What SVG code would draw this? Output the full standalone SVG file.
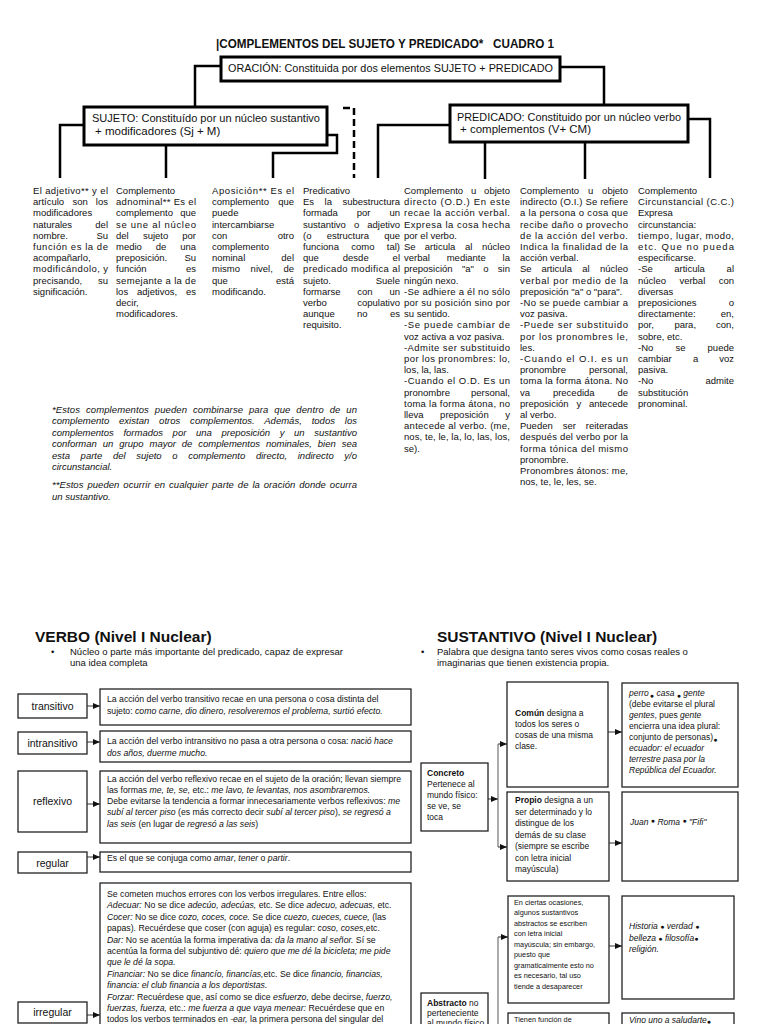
<svg xmlns="http://www.w3.org/2000/svg" width="768" height="1024" viewBox="0 0 768 1024">
<defs>
<marker id="ah" markerUnits="userSpaceOnUse" markerWidth="7" markerHeight="6" refX="7" refY="3" orient="auto"><path d="M0,0 L7,3 L0,6 z" fill="#111"/></marker>
</defs>
<style>
text{font-family:"Liberation Sans",Arial,Helvetica,sans-serif;fill:#111}
.col{font-size:9.5px}
.e{text-anchor:end}
.fn{font-size:9.5px;font-style:italic}
.ttl{font-size:12.5px;font-weight:bold}
.bt{font-size:11.5px}
.box{fill:#fff;stroke:#000;stroke-width:3}
.ln{fill:none;stroke:#000;stroke-width:2.5}
.dash{fill:none;stroke:#000;stroke-width:2.5;stroke-dasharray:7 4}
.vb{fill:#fff;stroke:#222;stroke-width:1.3}
.lbl{font-size:10.5px;text-anchor:middle}
.d{font-size:8.7px}
.i{font-style:italic}
.b{font-weight:bold}
.h{font-size:15.5px;font-weight:bold}
.bl{font-size:9.5px}
.s{font-size:8.5px}
.xs{font-size:7.3px}
.ar{fill:none;stroke:#555;stroke-width:1.2;marker-end:url(#ah)}
.gr{fill:none;stroke:#888;stroke-width:1.4}
.dot{font-style:normal;font-size:7px}
</style>
<rect width="768" height="1024" fill="#fff"/>

<text id="title" class="ttl" x="216" y="48" textLength="338" lengthAdjust="spacingAndGlyphs" xml:space="preserve">|COMPLEMENTOS DEL SUJETO Y PREDICADO*   CUADRO 1</text>

<g id="connectors-top">
<polyline class="ln" points="221,66 195,66 195,107"/>
<polyline class="ln" points="560,67 604,67 604,105"/>
<polyline class="ln" points="84,125 60,125 60,178"/>
<line class="ln" x1="166" y1="145" x2="166" y2="178"/>
<polyline class="ln" points="327,135 337,135 337,153 273,153 273,178"/>
<polyline class="dash" points="343,108 354,108 354,178"/>
<polyline class="ln" points="450,125 378,125 378,178"/>
<line class="ln" x1="485" y1="142" x2="485" y2="179"/>
<line class="ln" x1="585" y1="142" x2="585" y2="179"/>
<polyline class="ln" points="688,119 710,119 710,178"/>
</g>

<g id="n-oracion">
<rect class="box" x="221" y="57" width="339" height="24"/>
<text class="bt" x="228" y="71.5" textLength="325" lengthAdjust="spacingAndGlyphs">ORACIÓN: Constituida por dos elementos SUJETO + PREDICADO</text>
</g>
<g id="n-sujeto">
<rect class="box" x="84" y="107" width="243" height="38"/>
<text class="bt" x="92" y="122" textLength="228" lengthAdjust="spacingAndGlyphs">SUJETO: Constituído por un núcleo sustantivo</text>
<text class="bt" x="95" y="134.5">+ modificadores (Sj + M)</text>
</g>
<g id="n-predicado">
<rect class="box" x="450" y="105" width="238" height="37"/>
<text class="bt" x="457" y="120.5" textLength="224" lengthAdjust="spacingAndGlyphs">PREDICADO: Constituido por un núcleo verbo</text>
<text class="bt" x="460" y="133">+ complementos (V+ CM)</text>
</g>

<g id="col-adjetivo" class="col">
<text x="33" y="194" textLength="75" lengthAdjust="spacing">El adjetivo** y el</text>
<text x="33" y="205.2">artículo</text><text x="72.4" y="205.2">son</text><text class="e" x="108" y="205.2">los</text>
<text x="33" y="216.4">modificadores</text>
<text x="33" y="227.6">naturales</text><text class="e" x="108" y="227.6">del</text>
<text x="33" y="238.8">nombre.</text><text class="e" x="108" y="238.8">Su</text>
<text x="33" y="250" textLength="75" lengthAdjust="spacing">función es la de</text>
<text x="33" y="261.2">acompañarlo,</text>
<text x="33" y="272.4" textLength="75" lengthAdjust="spacing">modificándolo, y</text>
<text x="33" y="283.6">precisando,</text><text class="e" x="108" y="283.6">su</text>
<text x="33" y="294.8">significación.</text>
</g>

<g id="col-adnominal" class="col">
<text x="116" y="194">Complemento</text>
<text x="116" y="205.2" textLength="80" lengthAdjust="spacing">adnominal** Es el</text>
<text x="116" y="216.4">complemento</text><text class="e" x="196" y="216.4">que</text>
<text x="116" y="227.6" textLength="80" lengthAdjust="spacing">se une al núcleo</text>
<text x="116" y="238.8">del</text><text x="142.9" y="238.8">sujeto</text><text class="e" x="196" y="238.8">por</text>
<text x="116" y="250">medio</text><text x="155.8" y="250">de</text><text class="e" x="196" y="250">una</text>
<text x="116" y="261.2">preposición.</text><text class="e" x="196" y="261.2">Su</text>
<text x="116" y="272.4">función</text><text class="e" x="196" y="272.4">es</text>
<text x="116" y="283.6" textLength="80" lengthAdjust="spacing">semejante a la de</text>
<text x="116" y="294.8">los</text><text x="137" y="294.8">adjetivos,</text><text class="e" x="196" y="294.8">es</text>
<text x="116" y="306">decir,</text>
<text x="116" y="317.2">modificadores.</text>
</g>

<g id="col-aposicion" class="col">
<text x="212" y="194" textLength="82" lengthAdjust="spacing">Aposición** Es el</text>
<text x="212" y="205.2">complemento</text><text class="e" x="294" y="205.2">que</text>
<text x="212" y="216.4">puede</text>
<text x="212" y="227.6">intercambiarse</text>
<text x="212" y="238.8">con</text><text class="e" x="294" y="238.8">otro</text>
<text x="212" y="250">complemento</text>
<text x="212" y="261.2">nominal</text><text class="e" x="294" y="261.2">del</text>
<text x="212" y="272.4">mismo</text><text x="250.6" y="272.4">nivel,</text><text class="e" x="294" y="272.4">de</text>
<text x="212" y="283.6">que</text><text class="e" x="294" y="283.6">está</text>
<text x="212" y="294.8">modificando.</text>
</g>

<g id="col-predicativo" class="col">
<text x="303" y="194">Predicativo</text>
<text x="303" y="205.2">Es</text><text x="324.6" y="205.2">la</text><text class="e" x="400" y="205.2">subestructura</text>
<text x="303" y="216.4">formada</text><text x="356.8" y="216.4">por</text><text class="e" x="400" y="216.4">un</text>
<text x="303" y="227.6">sustantivo</text><text x="353.9" y="227.6">o</text><text class="e" x="400" y="227.6">adjetivo</text>
<text x="303" y="238.8">(o</text><text x="326.7" y="238.8">estructura</text><text class="e" x="400" y="238.8">que</text>
<text x="303" y="250">funciona</text><text x="351.3" y="250">como</text><text class="e" x="400" y="250">tal)</text>
<text x="303" y="261.2">que</text><text x="342.8" y="261.2">desde</text><text class="e" x="400" y="261.2">el</text>
<text x="303" y="272.4" textLength="97" lengthAdjust="spacing">predicado modifica al</text>
<text x="303" y="283.6">sujeto.</text><text class="e" x="400" y="283.6">Suele</text>
<text x="303" y="294.8">formarse</text><text x="357.3" y="294.8">con</text><text class="e" x="400" y="294.8">un</text>
<text x="303" y="306">verbo</text><text class="e" x="400" y="306">copulativo</text>
<text x="303" y="317.2">aunque</text><text x="357" y="317.2">no</text><text class="e" x="400" y="317.2">es</text>
<text x="303" y="328.4">requisito.</text>
</g>

<g id="col-od" class="col">
<text x="404" y="194">Complemento</text><text x="471" y="194">u</text><text class="e" x="510" y="194">objeto</text>
<text x="404" y="205.2" textLength="106" lengthAdjust="spacing">directo (O.D.) En este</text>
<text x="404" y="216.4" textLength="106" lengthAdjust="spacing">recae la acción verbal.</text>
<text x="404" y="227.6" textLength="106" lengthAdjust="spacing">Expresa la cosa hecha</text>
<text x="404" y="238.8">por el verbo.</text>
<text x="404" y="250">Se</text><text x="424.7" y="250">articula</text><text x="465" y="250">al</text><text class="e" x="510" y="250">núcleo</text>
<text x="404" y="261.2">verbal</text><text x="446.7" y="261.2">mediante</text><text class="e" x="510" y="261.2">la</text>
<text x="404" y="272.4">preposición</text><text x="461.9" y="272.4">"a"</text><text x="483.3" y="272.4">o</text><text class="e" x="510" y="272.4">sin</text>
<text x="404" y="283.6">ningún nexo.</text>
<text x="404" y="294.8" textLength="106" lengthAdjust="spacing">-Se adhiere a él no sólo</text>
<text x="404" y="306" textLength="106" lengthAdjust="spacing">por su posición sino por</text>
<text x="404" y="317.2">su sentido.</text>
<text x="404" y="328.4" textLength="106" lengthAdjust="spacing">-Se puede cambiar de</text>
<text x="404" y="339.6">voz activa a voz pasiva.</text>
<text x="404" y="350.8" textLength="106" lengthAdjust="spacing">-Admite ser substituido</text>
<text x="404" y="362" textLength="106" lengthAdjust="spacing">por los pronombres: lo,</text>
<text x="404" y="373.2">los, la, las.</text>
<text x="404" y="384.4" textLength="106" lengthAdjust="spacing">-Cuando el O.D. Es un</text>
<text x="404" y="395.6">pronombre</text><text class="e" x="510" y="395.6">personal,</text>
<text x="404" y="406.8" textLength="106" lengthAdjust="spacing">toma la forma átona, no</text>
<text x="404" y="418">lleva</text><text x="440.1" y="418">preposición</text><text class="e" x="510" y="418">y</text>
<text x="404" y="429.2" textLength="106" lengthAdjust="spacing">antecede al verbo. (me,</text>
<text x="404" y="440.4" textLength="106" lengthAdjust="spacing">nos, te, le, la, lo, las, los,</text>
<text x="404" y="451.6">se).</text>
</g>

<g id="col-oi" class="col">
<text x="520" y="194">Complemento</text><text x="588" y="194">u</text><text class="e" x="628" y="194">objeto</text>
<text x="520" y="205.2" textLength="108" lengthAdjust="spacing">indirecto (O.I.) Se refiere</text>
<text x="520" y="216.4" textLength="108" lengthAdjust="spacing">a la persona o cosa que</text>
<text x="520" y="227.6" textLength="108" lengthAdjust="spacing">recibe daño o provecho</text>
<text x="520" y="238.8" textLength="108" lengthAdjust="spacing">de la acción del verbo.</text>
<text x="520" y="250" textLength="108" lengthAdjust="spacing">Indica la finalidad de la</text>
<text x="520" y="261.2">acción verbal.</text>
<text x="520" y="272.4">Se</text><text x="541.4" y="272.4">articula</text><text x="582.3" y="272.4">al</text><text class="e" x="628" y="272.4">núcleo</text>
<text x="520" y="283.6" textLength="108" lengthAdjust="spacing">verbal por medio de la</text>
<text x="520" y="294.8">preposición "a" o "para".</text>
<text x="520" y="306" textLength="108" lengthAdjust="spacing">-No se puede cambiar a</text>
<text x="520" y="317.2">voz pasiva.</text>
<text x="520" y="328.4" textLength="108" lengthAdjust="spacing">-Puede ser substituido</text>
<text x="520" y="339.6" textLength="108" lengthAdjust="spacing">por los pronombres le,</text>
<text x="520" y="350.8">les.</text>
<text x="520" y="362" textLength="108" lengthAdjust="spacing">-Cuando el O.I. es un</text>
<text x="520" y="373.2">pronombre</text><text class="e" x="628" y="373.2">personal,</text>
<text x="520" y="384.4" textLength="108" lengthAdjust="spacing">toma la forma átona. No</text>
<text x="520" y="395.6">va</text><text x="552.9" y="395.6">precedida</text><text class="e" x="628" y="395.6">de</text>
<text x="520" y="406.8">preposición</text><text x="576.4" y="406.8">y</text><text class="e" x="628" y="406.8">antecede</text>
<text x="520" y="418">al verbo.</text>
<text x="520" y="429.2">Pueden</text><text x="562.7" y="429.2">ser</text><text class="e" x="628" y="429.2">reiteradas</text>
<text x="520" y="440.4" textLength="108" lengthAdjust="spacing">después del verbo por la</text>
<text x="520" y="451.6" textLength="108" lengthAdjust="spacing">forma tónica del mismo</text>
<text x="520" y="462.8">pronombre.</text>
<text x="520" y="474" textLength="108" lengthAdjust="spacing">Pronombres átonos: me,</text>
<text x="520" y="485.2">nos, te, le, les, se.</text>
</g>

<g id="col-cc" class="col">
<text x="638" y="194">Complemento</text>
<text x="638" y="205.2" textLength="96" lengthAdjust="spacing">Circunstancial (C.C.)</text>
<text x="638" y="216.4">Expresa</text>
<text x="638" y="227.6">circunstancia:</text>
<text x="638" y="238.8" textLength="96" lengthAdjust="spacing">tiempo, lugar, modo,</text>
<text x="638" y="250" textLength="96" lengthAdjust="spacing">etc. Que no pueda</text>
<text x="638" y="261.2">especificarse.</text>
<text x="638" y="272.4">-Se</text><text x="674.2" y="272.4">articula</text><text class="e" x="734" y="272.4">al</text>
<text x="638" y="283.6">núcleo</text><text x="679.4" y="283.6">verbal</text><text class="e" x="734" y="283.6">con</text>
<text x="638" y="294.8">diversas</text>
<text x="638" y="306">preposiciones</text><text class="e" x="734" y="306">o</text>
<text x="638" y="317.2">directamente:</text><text class="e" x="734" y="317.2">en,</text>
<text x="638" y="328.4">por,</text><text x="674.4" y="328.4">para,</text><text class="e" x="734" y="328.4">con,</text>
<text x="638" y="339.6">sobre, etc.</text>
<text x="638" y="350.8">-No</text><text x="675.5" y="350.8">se</text><text class="e" x="734" y="350.8">puede</text>
<text x="638" y="362">cambiar</text><text x="692.9" y="362">a</text><text class="e" x="734" y="362">voz</text>
<text x="638" y="373.2">pasiva.</text>
<text x="638" y="384.4">-No</text><text class="e" x="734" y="384.4">admite</text>
<text x="638" y="395.6">substitución</text>
<text x="638" y="406.8">pronominal.</text>
</g>

<g id="footnote" class="fn">
<text x="52" y="412.5" word-spacing="3.1" textLength="305" lengthAdjust="spacing">*Estos complementos pueden combinarse para que dentro de un</text>
<text x="52" y="424" word-spacing="7.2" textLength="305" lengthAdjust="spacing">complemento existan otros complementos. Además, todos los</text>
<text x="52" y="435.5" word-spacing="7" textLength="305" lengthAdjust="spacing">complementos formados por una preposición y un sustantivo</text>
<text x="52" y="447" word-spacing="3.3" textLength="305" lengthAdjust="spacing">conforman un grupo mayor de complementos nominales, bien sea</text>
<text x="52" y="458.5" word-spacing="8" textLength="305" lengthAdjust="spacing">esta parte del sujeto o complemento directo, indirecto y/o</text>
<text x="52" y="470">circunstancial.</text>
<text x="52" y="488" word-spacing="1.2" textLength="305" lengthAdjust="spacing">**Estos pueden ocurrir en cualquier parte de la oración donde ocurra</text>
<text x="52" y="499.5">un sustantivo.</text>
</g>

<g id="verbo-header">
<text class="h" x="35" y="642">VERBO (Nivel I Nuclear)</text>
<text class="bl" x="51" y="654.5">•</text>
<text class="bl" x="70" y="654.5">Núcleo o parte más importante del predicado, capaz de expresar</text>
<text class="bl" x="70" y="666">una idea completa</text>
</g>

<g id="connectors-verbo">
<path class="ar" d="M87,706 H100"/>
<path class="ar" d="M87,742 H100"/>
<path class="ar" d="M87,804 H100"/>
<path class="ar" d="M87,857 H100"/>
<path class="ar" d="M87,1015 H100"/>
</g>

<g id="v-transitivo">
<rect class="vb" x="18" y="694" width="69" height="24"/>
<text class="lbl" x="52.5" y="709.5">transitivo</text>
<rect class="vb" x="100" y="689" width="311" height="36"/>
<text class="d" x="107" y="702">La acción del verbo transitivo recae en una persona o cosa distinta del</text>
<text class="d" x="107" y="714">sujeto: <tspan class="i">como carne, dio dinero, resolveremos el problema, surtió efecto.</tspan></text>
</g>
<g id="v-intransitivo">
<rect class="vb" x="18" y="732" width="69" height="22"/>
<text class="lbl" x="52.5" y="746.5">intransitivo</text>
<rect class="vb" x="100" y="731" width="311" height="31"/>
<text class="d" x="107" y="744">La acción del verbo intransitivo no pasa a otra persona o cosa: <tspan class="i">nació hace</tspan></text>
<text class="d i" x="107" y="756">dos años, duerme mucho.</text>
</g>
<g id="v-reflexivo">
<rect class="vb" x="18" y="771" width="69" height="61"/>
<text class="lbl" x="52.5" y="805">reflexivo</text>
<rect class="vb" x="100" y="771" width="311" height="72"/>
<text class="d" x="107" y="781.5">La acción del verbo reflexivo recae en el sujeto de la oración; llevan siempre</text>
<text class="d" x="107" y="792.8">las formas <tspan class="i">me, te, se,</tspan> etc.: <tspan class="i">me lavo, te levantas, nos asombraremos.</tspan></text>
<text class="d" x="107" y="804.1">Debe evitarse la tendencia a formar innecesariamente verbos reflexivos: <tspan class="i">me</tspan></text>
<text class="d" x="107" y="815.4"><tspan class="i">subí al tercer piso</tspan> (es más correcto decir <tspan class="i">subí al tercer piso</tspan>), <tspan class="i">se regresó a</tspan></text>
<text class="d" x="107" y="826.7"><tspan class="i">las seis</tspan> (en lugar de <tspan class="i">regresó a las seis</tspan>)</text>
</g>
<g id="v-regular">
<rect class="vb" x="18" y="852" width="69" height="21"/>
<text class="lbl" x="52.5" y="866.5">regular</text>
<rect class="vb" x="100" y="852" width="311" height="20"/>
<text class="d" x="107" y="861">Es el que se conjuga como <tspan class="i">amar</tspan>, <tspan class="i">tener</tspan> o <tspan class="i">partir</tspan>.</text>
</g>
<g id="v-irregular">
<rect class="vb" x="18" y="1002" width="69" height="21"/>
<text class="lbl" x="52.5" y="1016">irregular</text>
<rect class="vb" x="100" y="883" width="311" height="160"/>
<text class="d" x="107" y="897">Se cometen muchos errores con los verbos irregulares. Entre ellos:</text>
<text class="d" x="107" y="908.4"><tspan class="i">Adecuar:</tspan> No se dice <tspan class="i">adecúo, adecúas,</tspan> etc. Se dice <tspan class="i">adecuo, adecuas,</tspan> etc.</text>
<text class="d" x="107" y="919.8"><tspan class="i">Cocer:</tspan> No se dice <tspan class="i">cozo, coces, coce.</tspan> Se dice <tspan class="i">cuezo, cueces, cuece,</tspan> (las</text>
<text class="d" x="107" y="931.2">papas). Recuérdese que coser (con aguja) es regular: <tspan class="i">coso, coses,</tspan>etc.</text>
<text class="d" x="107" y="942.6"><tspan class="i">Dar:</tspan> No se acentúa la forma imperativa da: <tspan class="i">da la mano al señor.</tspan> Sí se</text>
<text class="d" x="107" y="954">acentúa la forma del subjuntivo dé: <tspan class="i">quiero que me dé la bicicleta; me pide</tspan></text>
<text class="d i" x="107" y="965.4">que le dé la sopa.</text>
<text class="d" x="107" y="976.8"><tspan class="i">Financiar:</tspan> No se dice <tspan class="i">financío, financías,</tspan>etc. Se dice <tspan class="i">financio, financias,</tspan></text>
<text class="d i" x="107" y="988.2">financia: el club financia a los deportistas.</text>
<text class="d" x="107" y="999.6"><tspan class="i">Forzar:</tspan> Recuérdese que, así como se dice <tspan class="i">esfuerzo,</tspan> debe decirse, <tspan class="i">fuerzo,</tspan></text>
<text class="d" x="107" y="1011"><tspan class="i">fuerzas, fuerza,</tspan> etc.: <tspan class="i">me fuerza a que vaya menear:</tspan> Recuérdese que en</text>
<text class="d" x="107" y="1022">todos los verbos terminados en <tspan class="i">-ear,</tspan> la primera persona del singular del</text>
</g>

<g id="sustantivo-header">
<text class="h" x="437" y="642">SUSTANTIVO (Nivel I Nuclear)</text>
<text class="bl" x="421" y="654.5">•</text>
<text class="bl" x="437" y="654.5">Palabra que designa tanto seres vivos como cosas reales o</text>
<text class="bl" x="437" y="666">imaginarias que tienen existencia propia.</text>
</g>

<g id="connectors-sustantivo">
<path class="gr" d="M498,744 V847"/>
<path class="gr" d="M498,937 V1024"/>
<path class="ar" d="M488,799 H498"/>
<path class="ar" d="M498,744 H507"/>
<path class="ar" d="M498,847 H507"/>
<path class="ar" d="M608,732 H622"/>
<path class="ar" d="M609,843 H622"/>
<path class="ar" d="M498,937 H508"/>
<path class="ar" d="M609,946 H622"/>
</g>

<g id="s-concreto">
<rect class="vb" x="421" y="763" width="67" height="68"/>
<text class="s" x="427" y="776"><tspan class="b">Concreto</tspan></text>
<text class="s" x="427" y="787">Pertenece al</text>
<text class="s" x="427" y="798">mundo físico:</text>
<text class="s" x="427" y="809">se ve, se</text>
<text class="s" x="427" y="820">toca</text>
</g>
<g id="s-comun">
<rect class="vb" x="507" y="682" width="101" height="105"/>
<text class="s" x="515" y="716"><tspan class="b">Común</tspan> designa a</text>
<text class="s" x="515" y="727">todos los seres o</text>
<text class="s" x="515" y="738">cosas de una misma</text>
<text class="s" x="515" y="749">clase.</text>
</g>
<g id="s-comun-ej">
<rect class="vb" x="622" y="683" width="116" height="104"/>
<text class="s" x="629" y="696"><tspan class="i">perro</tspan><tspan class="dot" dx="1" dy="2">●</tspan><tspan class="i" dy="-2"> casa </tspan><tspan class="dot" dy="2">●</tspan><tspan class="i" dy="-2"> gente</tspan></text>
<text class="s" x="629" y="707">(debe evitarse el plural</text>
<text class="s" x="629" y="718"><tspan class="i">gentes</tspan>, pues <tspan class="i">gente</tspan></text>
<text class="s" x="629" y="729">encierra una idea plural:</text>
<text class="s" x="629" y="740">conjunto de personas)<tspan class="dot" dy="2">●</tspan></text>
<text class="s i" x="629" y="751">ecuador: el ecuador</text>
<text class="s i" x="629" y="762">terrestre pasa por la</text>
<text class="s i" x="629" y="773">República del Ecuador.</text>
</g>
<g id="s-propio">
<rect class="vb" x="507" y="792" width="102" height="89"/>
<text class="s" x="515" y="803"><tspan class="b">Propio</tspan> designa a un</text>
<text class="s" x="515" y="814.5">ser determinado y lo</text>
<text class="s" x="515" y="826">distingue de los</text>
<text class="s" x="515" y="837.5">demás de su clase</text>
<text class="s" x="515" y="849">(siempre se escribe</text>
<text class="s" x="515" y="860.5">con letra inicial</text>
<text class="s" x="515" y="872">mayúscula)</text>
</g>
<g id="s-propio-ej">
<rect class="vb" x="622" y="792" width="116" height="89"/>
<text class="s" x="630" y="825"><tspan class="i">Juan </tspan><tspan class="dot" dy="-2">●</tspan><tspan class="i" dy="2">  Roma  </tspan><tspan class="dot" dy="-2">●</tspan><tspan class="i" dy="2">  "Fifi"</tspan></text>
</g>
<g id="s-abstracto-may">
<rect class="vb" x="508" y="896" width="101" height="107"/>
<text class="xs" x="514" y="904.5">En ciertas ocasiones,</text>
<text class="xs" x="514" y="915">algunos sustantivos</text>
<text class="xs" x="514" y="925.5">abstractos se escriben</text>
<text class="xs" x="514" y="936">con letra inicial</text>
<text class="xs" x="514" y="946.5">mayúscula; sin embargo,</text>
<text class="xs" x="514" y="957">puesto que</text>
<text class="xs" x="514" y="967.5">gramaticalmente esto no</text>
<text class="xs" x="514" y="978">es necesario, tal uso</text>
<text class="xs" x="514" y="988.5">tiende a desaparecer</text>
</g>
<g id="s-abstracto-may-ej">
<rect class="vb" x="622" y="896" width="112" height="103"/>
<text class="s" x="629" y="929"><tspan class="i">Historia </tspan><tspan class="dot">●</tspan><tspan class="i"> verdad  </tspan><tspan class="dot">●</tspan></text>
<text class="s" x="629" y="940.5"><tspan class="i">belleza </tspan><tspan class="dot">●</tspan><tspan class="i"> filosofía</tspan><tspan class="dot">●</tspan></text>
<text class="s i" x="629" y="952">religión.</text>
</g>
<g id="s-abstracto">
<rect class="vb" x="421" y="993" width="67" height="45"/>
<text class="s" x="427" y="1006"><tspan class="b">Abstracto</tspan> no</text>
<text class="s" x="427" y="1016">perteneciente</text>
<text class="s" x="427" y="1026">al mundo físico</text>
</g>
<g id="s-funcion">
<rect class="vb" x="508" y="1013" width="101" height="30"/>
<text class="xs" x="514" y="1022">Tienen función de</text>
</g>
<g id="s-funcion-ej">
<rect class="vb" x="622" y="1013" width="112" height="30"/>
<text class="s" x="629" y="1023"><tspan class="i">Vino uno a saludarte</tspan><tspan class="dot" dy="1">●</tspan></text>
</g>
</svg>
